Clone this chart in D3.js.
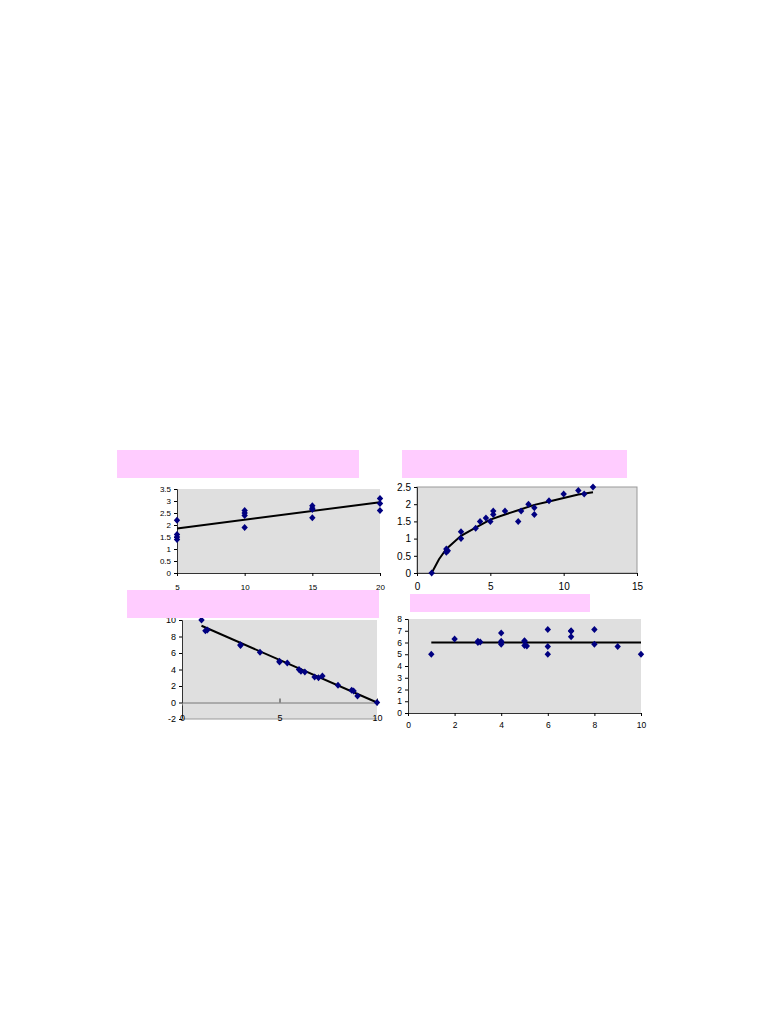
<!DOCTYPE html>
<html>
<head>
<meta charset="UTF-8">
<title>Four trend charts</title>
<script src="https://d3js.org/d3.v7.min.js"></script>
<style>
  body { margin: 0; background: #fff; }
  svg text { font-family: Arial, "Liberation Sans", sans-serif; fill: #000; }
</style>
</head>
<body>
<svg id="chart" width="768" height="1024"></svg>
<script>
// panel 1: linear trend
const p1X = [5, 5, 5, 5, 10, 10, 10, 10, 15, 15, 15, 15, 20, 20, 20];
const p1Y = [2.2, 1.6, 1.5, 1.4, 2.6, 2.5, 2.4, 1.9, 2.8, 2.7, 2.65, 2.3, 3.1, 2.9, 2.6];
const p1TrendX = [5, 20];
const p1TrendY = [1.85, 2.95];

// panel 2: log trend
const p2X = [1, 2, 2, 2.1, 3, 3, 4, 4.3, 4.7, 5, 5.2, 5.2, 6, 6.9, 7.1, 7.6, 8, 8, 9, 10, 11, 11.4, 12];
const p2Y = [0, 0.7, 0.6, 0.65, 1.2, 1.0, 1.3, 1.5, 1.6, 1.5, 1.8, 1.7, 1.8, 1.5, 1.8, 2.0, 1.9, 1.7, 2.1, 2.3, 2.4, 2.3, 2.5];
const p2TrendX = [1, 1.5, 2, 3, 4, 5, 6, 7, 8, 9, 10, 11, 12];
const p2TrendY = [0, 0.4, 0.7, 1.08, 1.32, 1.55, 1.7, 1.84, 1.98, 2.08, 2.18, 2.28, 2.35];

// panel 3: falling linear trend
const p3X = [1, 1.2, 1.3, 3, 3, 4, 5, 5, 5.4, 6, 6.1, 6.3, 6.8, 7, 7.2, 8, 8.7, 8.8, 9, 10];
const p3Y = [10, 8.7, 8.8, 7, 6.9, 6.1, 5, 4.9, 4.8, 4, 3.8, 3.7, 3.1, 3, 3.2, 2.1, 1.5, 1.4, 0.8, 0];
const p3TrendX = [1, 10];
const p3TrendY = [9.3, 0];

// panel 4: flat trend
const p4X = [1, 2, 3, 3, 3.1, 4, 4, 4, 4, 5, 5, 5, 5.1, 6, 6, 6, 7, 7, 7, 8, 8, 9, 10];
const p4Y = [5, 6.3, 6.1, 6, 6.05, 6.8, 6.1, 6.0, 5.85, 6.1, 6.15, 5.75, 5.7, 7.1, 5.65, 5, 7, 6.5, 6.95, 7.1, 5.85, 5.65, 5];
const p4TrendX = [1, 10];
const p4TrendY = [6, 6];

const svg = d3.select("#chart");

const panels = [
  { xs: p1X, ys: p1Y, tx: p1TrendX, ty: p1TrendY,
    xDom: [5, 20], yDom: [0, 3.5], xTicks: [5, 10, 15, 20], yTicks: d3.range(0, 3.51, 0.5),
    left: 177, right: 380, top: 489, bottom: 573, font: 8, xLabelY: 587,
    title: [117, 450, 242, 28], rightBorder: false },
  { xs: p2X, ys: p2Y, tx: p2TrendX, ty: p2TrendY,
    xDom: [0, 15], yDom: [0, 2.5], xTicks: [0, 5, 10, 15], yTicks: d3.range(0, 2.51, 0.5),
    left: 417, right: 637, top: 487, bottom: 573, font: 10, xLabelY: 586,
    title: [402, 450, 225, 28], rightBorder: true },
  { xs: p3X, ys: p3Y, tx: p3TrendX, ty: p3TrendY,
    xDom: [0, 10], yDom: [-2, 10], xTicks: [0, 5, 10], yTicks: d3.range(-2, 10.1, 2),
    left: 182, right: 377, top: 620, bottom: 719, font: 9, xLabelY: 718, zeroAxis: true,
    title: [127, 590, 252, 28], rightBorder: false },
  { xs: p4X, ys: p4Y, tx: p4TrendX, ty: p4TrendY,
    xDom: [0, 10], yDom: [0, 8], xTicks: [0, 2, 4, 6, 8, 10], yTicks: d3.range(0, 8.1, 1),
    left: 408, right: 641, top: 619, bottom: 713, font: 8.5, xLabelY: 725,
    title: [410, 594, 180, 18], rightBorder: false }
];

// plain hyphen for negatives, like the original
const fmt = d => d3.format("~g")(d).replace("\u2212", "-");

function drawPanel(p) {
  const g = svg.append("g");
  const x = d3.scaleLinear().domain(p.xDom).range([p.left, p.right]);
  const y = d3.scaleLinear().domain(p.yDom).range([p.bottom, p.top]);

  // plot area
  g.append("rect")
    .attr("x", p.left).attr("y", p.top)
    .attr("width", p.right - p.left).attr("height", p.bottom - p.top)
    .attr("fill", "#dfdfdf")
    .attr("stroke", p.rightBorder ? "#999" : "none").attr("stroke-width", 1);

  // y axis
  const yAxis = g.append("g")
    .attr("transform", `translate(${p.left},0)`)
    .call(d3.axisLeft(y).tickValues(p.yTicks).tickSize(3).tickPadding(3).tickFormat(fmt));
  yAxis.select(".domain").attr("stroke", "#333");
  yAxis.selectAll("text").style("font-size", p.font + "px");

  // x axis, either at the bottom or across the zero line
  const axisY = p.zeroAxis ? y(0) : p.bottom;
  if (p.zeroAxis) {
    g.append("line")
      .attr("x1", p.left).attr("x2", p.right)
      .attr("y1", y(p.yDom[0])).attr("y2", y(p.yDom[0]))
      .attr("stroke", "#999");
  }
  const xAxis = g.append("g")
    .attr("transform", `translate(0,${axisY})`)
    .call(d3.axisBottom(x).tickValues(p.xTicks).tickSize(3).tickFormat(fmt));
  xAxis.select(".domain").attr("stroke", p.zeroAxis ? "#777" : "#333");
  if (p.zeroAxis) xAxis.selectAll(".tick line").attr("y1", -4).attr("y2", 0).attr("stroke", "#333");
  xAxis.selectAll("text")
    .style("font-size", p.font + "px")
    .attr("y", p.xLabelY - axisY)
    .attr("dy", "0.35em");

  // trend line
  const line = d3.line().x((d, i) => x(p.tx[i])).y((d, i) => y(p.ty[i]));
  g.append("path")
    .datum(p.tx)
    .attr("d", line)
    .attr("fill", "none")
    .attr("stroke", "#000")
    .attr("stroke-width", 2);

  // points (squat diamonds like excel markers)
  g.selectAll(".pt")
    .data(p.xs)
    .join("path")
    .attr("class", "pt")
    .attr("transform", (d, i) => `translate(${x(d)},${y(p.ys[i])})`)
    .attr("d", "M0,-3.5L3.2,0L0,3.5L-3.2,0Z")
    .attr("fill", "#000080");

  // pink title box (empty)
  g.append("rect")
    .attr("x", p.title[0]).attr("y", p.title[1])
    .attr("width", p.title[2]).attr("height", p.title[3])
    .attr("fill", "#ffccff");
}

panels.forEach(drawPanel);
</script>
</body>
</html>
